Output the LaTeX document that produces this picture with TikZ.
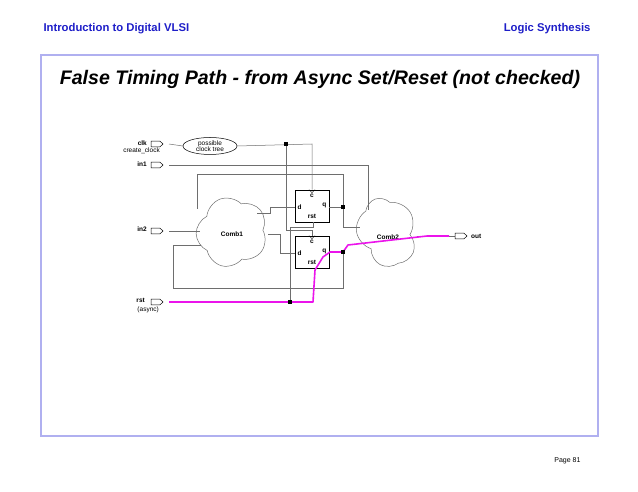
\documentclass[tikz,border=0pt]{standalone}
\usepackage{fontspec}
\setmainfont{Liberation Sans}
\usetikzlibrary{shapes.symbols,shapes.geometric}
\definecolor{hdr}{RGB}{30,30,200}
\definecolor{frm}{RGB}{176,176,240}
\definecolor{wire}{RGB}{110,110,110}
\definecolor{mag}{RGB}{235,20,235}
\tikzset{
 w/.style={draw=wire,line width=0.5pt},
 mw/.style={draw=mag,line width=1.6pt,line join=round},
 lab/.style={font=\bfseries\fontsize{6.5}{7}\selectfont,inner sep=0pt},
 sm/.style={font=\fontsize{6.5}{7}\selectfont,inner sep=0pt},
 ff/.style={draw=black,line width=0.6pt,minimum width=34pt,minimum height=32pt,inner sep=0pt},
 cl/.style={cloud,cloud puffs=5,cloud puff arc=130,aspect=1,draw=wire,line width=0.5pt,inner sep=0pt},
 jn/.style={fill=black,minimum size=4.5pt,inner sep=0pt},
}
\newcommand\pin[2]{\draw[black,line width=0.5pt,fill=white] (#1-6,#2-2.8) -- (#1+3,#2-2.8) -- (#1+6,#2) -- (#1+3,#2+2.8) -- (#1-6,#2+2.8) -- cycle;}
\begin{document}
\begin{tikzpicture}[x=1pt,y=-1pt]
\useasboundingbox (0,0) rectangle (638,492);
\node[anchor=west,text=hdr,font=\bfseries\fontsize{11.3}{12}\selectfont] (h1) at (40,29) {Introduction to Digital VLSI};
\node[anchor=east,text=hdr,font=\bfseries\fontsize{11.3}{12}\selectfont] (h2) at (594,29) {Logic Synthesis};
\draw[frm,line width=2.5pt] (41,55) rectangle (598,436);
\node[font=\bfseries\itshape\fontsize{19.6}{22}\selectfont] (t) at (320,79) {False Timing Path - from Async Set/Reset (not checked)};
\node[anchor=east,font=\fontsize{7}{8}\selectfont] (pg) at (584,461) {Page 81};
% coordinates
\coordinate (clkp) at (163,144);
\coordinate (in1p) at (163,165);
\coordinate (in2p) at (163,231);
\coordinate (rstp) at (163,302);
\coordinate (outp) at (455,236);
% clouds
\node[cl,minimum width=72pt,minimum height=70pt,rotate=20] (c1) at (232,232) {};
\node[cl,minimum width=60pt,minimum height=70pt,rotate=20] (c2) at (387,232) {};
\node[lab] at (232,234) {Comb1};
\node[lab] at (388,237) {Comb2};
% ellipse
\node[ellipse,draw=black,line width=0.5pt,minimum width=54pt,minimum height=17pt,inner sep=0pt,align=center,font=\fontsize{6.5}{6.5}\selectfont] (ct) at (210,146) {possible\\clock tree};
% FFs
\node[ff] (f1) at (312,206) {};
\node[ff] (f2) at (312,252) {};
\foreach \f in {f1,f2}{
 \node[lab] at ([xshift=5pt,yshift=-1pt]\f.west) {d};
 \node[lab] at ([xshift=-5pt,yshift=1pt]\f.east) {q};
 \node[lab] at ([yshift=6pt]\f.south) {rst};
 \node[lab] at ([yshift=-6pt]\f.north) {c};
 \draw[black,line width=0.4pt] ([xshift=-3pt]\f.north) -- ([yshift=-3pt]\f.north) -- ([xshift=3pt]\f.north);
}
% wires
\draw[w] (clkp)++(6,0) -- (ct.west);
\draw[w] (ct.east) -- (312,144) -- (f1.north);
\draw[w] (286,144) -- (286,230) -- (312,230) -- (f2.north);
\draw[w] (in1p)++(6,0) -- (368,165) -- (368,210);
\draw[w] (in2p)++(6,0) -- (200,231);
\draw[w] (257,213) -- (270,213) -- (270,207) -- (295,207);
\draw[w] (268,234) -- (280,234) -- (280,253) -- (295,253);
\draw[w] (329,207) -- (343,207);
\draw[w] (343,207) -- (343,174) -- (197,174) -- (197,209);
\draw[w] (343,207) -- (343,227) -- (360,227);
\draw[w] (343,252) -- (343,288) -- (173,288) -- (173,245) -- (201,245);
\draw[w] (290,302) -- (290,227) -- (313,227) -- (313,222);
\draw[w] (417,236) -- (outp);
% magenta path
\draw[mw] (rstp)++(6,0) -- (313,302) -- (315,270) -- (323,257) -- (330,252) -- (343,252) -- (348,245) -- (427,236) -- (449,236);
% junctions
\node[jn] (j1) at (286,144) {};
\node[jn] (j2) at (343,207) {};
\node[jn,minimum size=4pt] (j3) at (343,252) {};
\node[jn,minimum size=4pt] (j4) at (290,302) {};
% pins
\pin{157}{144}\pin{157}{165}\pin{157}{231}\pin{157}{302}\pin{461}{236}
\node[lab,anchor=east] (lclk) at (147,143) {clk};
\node[sm,anchor=east] (lcc) at (160,151) {create\_clock};
\node[lab,anchor=east] (lin1) at (147,164) {in1};
\node[lab,anchor=east] (lin2) at (147,229) {in2};
\node[lab,anchor=east] (lrst) at (145,300) {rst};
\node[sm,anchor=east] (las) at (159,310) {(async)};
\node[lab,anchor=west] (lout) at (471,236) {out};
\end{tikzpicture}
\end{document}
